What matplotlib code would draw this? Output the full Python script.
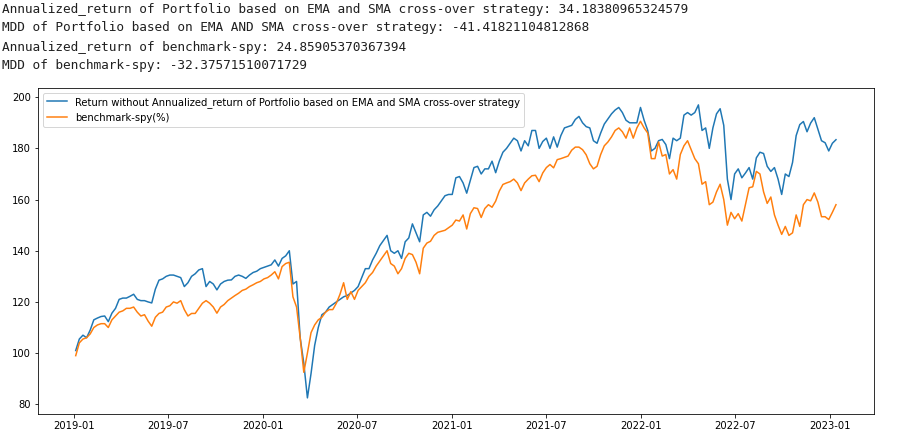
import numpy as np
import pandas as pd
import matplotlib
matplotlib.use("Agg")
import matplotlib.pyplot as plt
import matplotlib.dates as mdates

# summary lines printed above the chart
summary_lines = [
    "Annualized_return of Portfolio based on EMA and SMA cross-over strategy: 34.18380965324579",
    "MDD of Portfolio based on EMA AND SMA cross-over strategy: -41.41821104812868",
    "Annualized_return of benchmark-spy: 24.85905370367394",
    "MDD of benchmark-spy: -32.37571510071729",
]

# weekly readings (Fridays) of the two cumulative return curves
start_date = "2019-01-04"

portfolio = [
    101, 105.5, 107, 106, 109, 113, 113.7, 114.3, 114.5, 112.3,
    115.6, 117.5, 121, 121.5, 121.5, 122.2, 123, 121, 120.5, 120.5,
    120, 119.6, 125, 128.5, 129, 130, 130.5, 130.5, 130, 129.5,
    126, 127.5, 130, 131, 132.5, 133, 126, 128, 127, 124.7,
    127, 128, 128.5, 128.6, 130, 130.5, 130, 129.2, 130.5, 131.5,
    132, 133, 133.5, 134, 134.5, 136.4, 134, 137, 138, 140,
    127, 128, 106, 96, 82.5, 92, 103, 110, 115, 116,
    118, 119, 120, 121, 122, 122.5, 123.5, 124.5, 126, 129.5,
    133, 133, 136.4, 139, 142, 144, 146, 140, 139, 140,
    137, 143.5, 145, 150.5, 147, 143.5, 154, 155, 153.5, 156,
    157.5, 159.5, 161.5, 162, 162, 168.5, 169, 166.5, 162.5, 167.5,
    172.5, 173, 170, 172, 172, 175, 170.5, 175, 178.5, 180,
    182, 184, 183, 179, 183, 181, 187, 187, 180, 182.7,
    184, 180, 184.5, 180.5, 185, 188, 188.5, 189, 191.3, 192.5,
    190, 188.5, 188, 183, 182, 186, 189.5, 191.5, 193.5, 195,
    196, 194, 191, 190, 190, 190, 196, 191, 187, 179,
    180, 183, 183.5, 181.5, 176, 184, 183, 184, 193, 194,
    193, 194, 197, 187, 188, 180, 188, 193.5, 195.5, 189,
    168, 160, 170, 172, 168.5, 170.4, 172.5, 168, 176.3, 178.5,
    178, 173, 171, 172.5, 168, 162, 170, 169, 174.5, 185,
    189.3, 190.5, 186.5, 189.9, 192, 187.5, 183, 182.2, 179, 182,
    183.4,
]

benchmark = [
    99, 104, 105.5, 106, 107.5, 110, 111, 111.5, 111.5, 110,
    113, 114.5, 116, 116.5, 117.5, 117.5, 118, 116, 114.5, 115,
    112.5, 110.5, 114, 115.5, 116, 118, 118.5, 120, 119.5, 120.5,
    117, 114.5, 115.5, 115.5, 117.5, 119.5, 120.5, 119.5, 118, 115.6,
    118, 119, 120.5, 121.5, 122.5, 123.4, 124.5, 125, 126, 126.7,
    127.5, 128, 129, 129.5, 130.5, 131.8, 129, 133.8, 135, 135.5,
    122, 118, 106, 92.5, 100, 108, 111, 113, 114, 116,
    117, 117, 119.5, 123, 127.5, 121, 124, 121, 124.5, 126,
    127.5, 130, 131.5, 134, 136, 138, 140, 135, 134, 131,
    133, 137, 139, 138.5, 135.5, 131, 141, 143, 143.7, 146,
    147.2, 147.6, 148, 149, 150, 152, 151.6, 154, 148.5, 154.5,
    156.8, 156.5, 153, 156.5, 158, 157, 159.4, 163.3, 165.9, 166.5,
    167, 168, 166.5, 163.5, 166.5, 168, 169.3, 169.5, 167, 170.4,
    172.5, 173.7, 172.4, 175.6, 176, 176.5, 177, 179.3, 180.5, 180.5,
    179.5, 177.5, 174, 172, 173, 177.6, 181, 182.5, 184.5, 187,
    188, 186.5, 184, 188, 184, 188, 190.6, 188, 186, 176,
    176, 182.5, 177, 177.6, 170, 171.7, 168, 177.6, 181, 183,
    179.5, 176, 174, 166, 167, 158, 159, 163, 166, 160,
    150, 155, 152.5, 154.5, 151.6, 158, 164.6, 165, 171, 170,
    163, 158.5, 161, 154, 150, 146.4, 149.5, 146, 147, 154,
    149.5, 158, 160, 159.5, 162.6, 159, 153.3, 153.3, 152.2, 155,
    158,
]

dates = pd.date_range(start_date, periods=len(portfolio), freq="7D")

# notebook inline backend renders at 72 dpi
fig = plt.figure(figsize=(918 / 72, 443 / 72), dpi=72)

# notebook-style printed output above the plot
for i, line in enumerate(summary_lines):
    fig.text(2 / 918, 1 - (9 + 19 * i) / 443, line, family="DejaVu Sans Mono",
             fontsize=12.7, va="center", ha="left", color="#202020")

ax = fig.add_axes([37.7 / 918, 29 / 443, (874 - 37.7) / 918, (414 - 88) / 443])
ax.plot(dates, portfolio, color="C0",
        label="Return without Annualized_return of Portfolio based on EMA and SMA cross-over strategy")
ax.plot(dates, benchmark, color="C1", label="benchmark-spy(%)")

ax.xaxis.set_major_locator(mdates.MonthLocator(bymonth=(1, 7)))
ax.xaxis.set_major_formatter(mdates.DateFormatter("%Y-%m"))
ax.set_yticks([80, 100, 120, 140, 160, 180, 200])
ax.set_ylim(76.2, 203.6)
ax.legend(loc="upper left")

fig.savefig("out.png", dpi=72)
